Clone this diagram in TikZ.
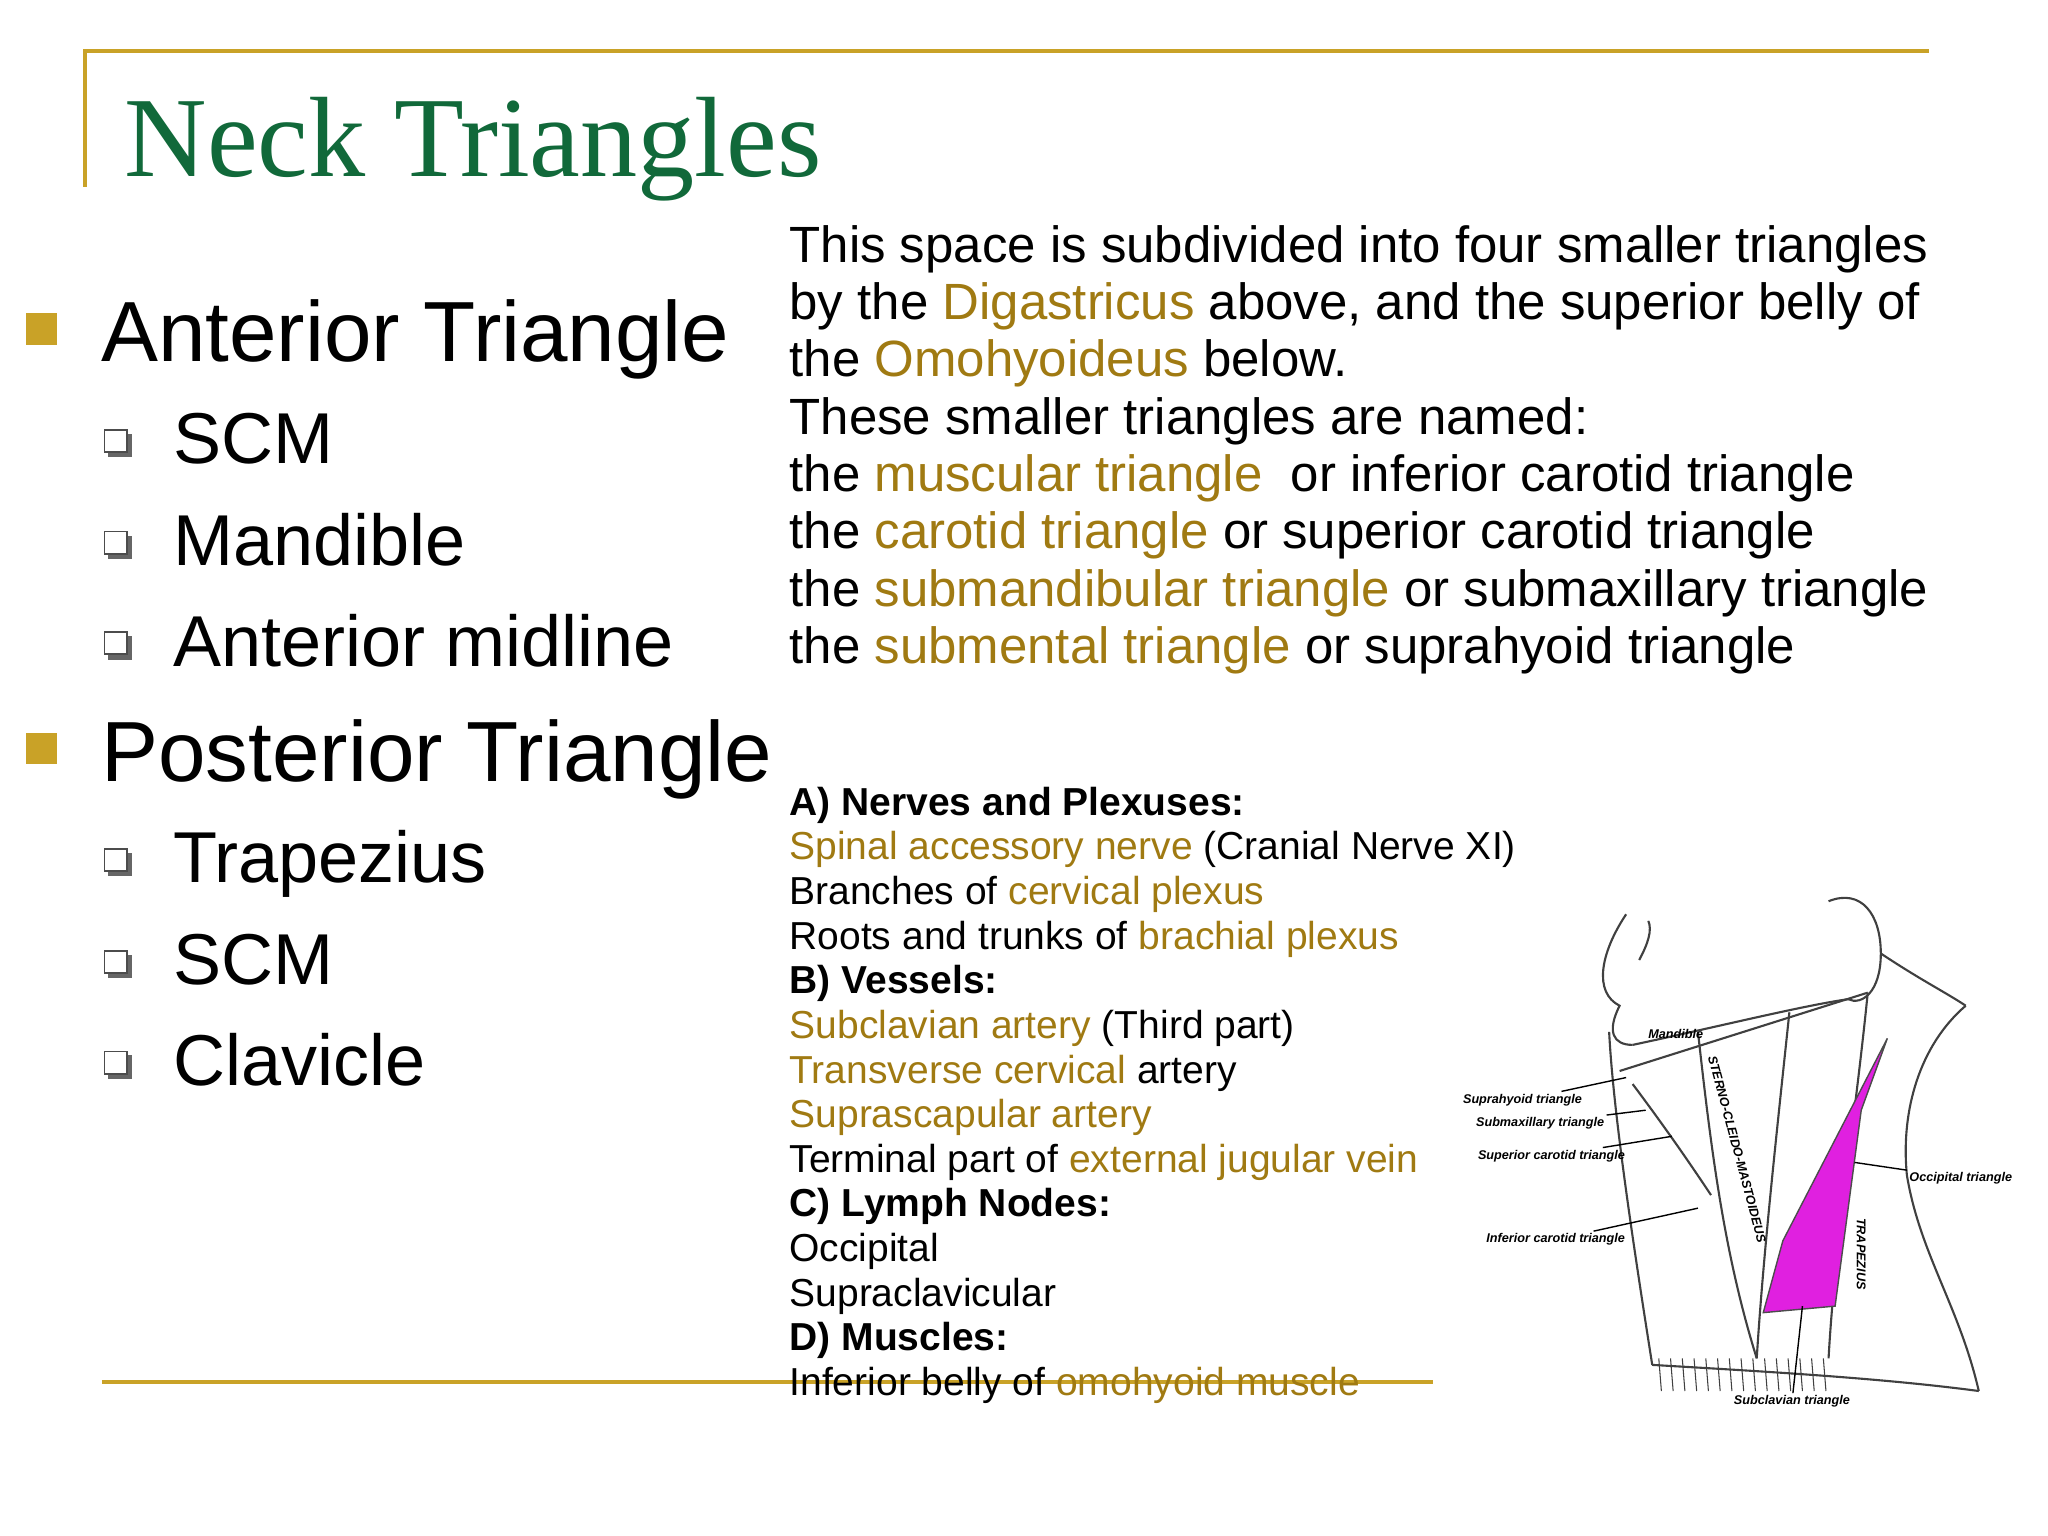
\documentclass[tikz,border=0pt]{standalone}
\usepackage{fontspec}
\setmainfont{Liberation Sans}
\newfontfamily\titlefont{Liberation Serif}
\definecolor{gline}{HTML}{C9A227}
\definecolor{gtext}{HTML}{A07A12}
\definecolor{tgreen}{HTML}{11693A}
\definecolor{mag}{HTML}{E020E0}
\begin{document}
\begin{tikzpicture}[x=0.01306cm,y=-0.01306cm,
  txt/.style={anchor=base west,inner sep=0},
  big/.style={txt,font=\fontsize{24.3}{28}\selectfont},
  sub/.style={txt,font=\fontsize{20.5}{24}\selectfont},
  para/.style={anchor=north west,inner sep=0,font=\fontsize{14.5}{16.3}\selectfont,align=left},
  lst/.style={anchor=north west,inner sep=0,font=\fontsize{11.1}{12.7}\selectfont,align=left},
  lab/.style={font=\fontsize{3.6}{4}\selectfont\itshape\bfseries,inner sep=0.5pt},
  hb/.style={draw=black!70,fill=white,line width=0.5pt}]
\useasboundingbox (0,0) rectangle (1568,1176);
\fill[white] (0,0) rectangle (1568,1176);
% frame lines
\draw[gline,line width=1.3pt] (65,143) -- (65,39) -- (1477,39);
\draw[gline,line width=1.3pt] (78,1058) -- (1097,1058);
\node[txt,text=tgreen,font=\fontsize{32.5}{36}\selectfont\titlefont] (title) at (95,135) {Neck Triangles};
% left bullets
\foreach \n/\y/\t in {a/277/Anterior Triangle,p/598/Posterior Triangle}{
  \fill[gline] (20,240-277+\y) rectangle (44,264-277+\y);
  \node[big] (\n) at (77,\y) {\t};}
\foreach \n/\y/\t in {s1/355/SCM,s2/433/Mandible,s3/510/Anterior midline,s4/676/Trapezius,s5/754/SCM,s6/831/Clavicle}{
  \fill[black!60] (83,\y-23) rectangle (101,\y-5);
  \draw[hb] (80,\y-26) rectangle (97,\y-9);
  \node[sub] (\n) at (132,\y) {\t};}
% paragraph
\node[para] (para) at (604,172) {This space is subdivided into four smaller triangles\\
by the \textcolor{gtext}{Digastricus} above, and the superior belly of\\
the \textcolor{gtext}{Omohyoideus} below.\\
These smaller triangles are named:\\
the \textcolor{gtext}{muscular triangle}\ \ or inferior carotid triangle\\
the \textcolor{gtext}{carotid triangle} or superior carotid triangle\\
the \textcolor{gtext}{submandibular triangle} or submaxillary triangle\\
the \textcolor{gtext}{submental triangle} or suprahyoid triangle};
\node[lst] (list) at (604,602) {\textbf{A) Nerves and Plexuses:}\\
\textcolor{gtext}{Spinal accessory nerve} (Cranial Nerve XI)\\
Branches of \textcolor{gtext}{cervical plexus}\\
Roots and trunks of \textcolor{gtext}{brachial plexus}\\
\textbf{B) Vessels:}\\
\textcolor{gtext}{Subclavian artery} (Third part)\\
\textcolor{gtext}{Transverse cervical} artery\\
\textcolor{gtext}{Suprascapular artery}\\
Terminal part of \textcolor{gtext}{external jugular vein}\\
\textbf{C) Lymph Nodes:}\\
Occipital\\
Supraclavicular\\
\textbf{D) Muscles:}\\
Inferior belly of \textcolor{gtext}{omohyoid muscle}};
% illustration
\begin{scope}[draw=black!75,line width=0.6pt]
\draw (1245,700) .. controls (1225,730) and (1220,760) .. (1240,770) .. controls (1230,790) and (1235,800) .. (1250,800);
\draw (1255,735) .. controls (1262,722) and (1265,712) .. (1262,705);
\draw (1400,690) .. controls (1425,680) and (1440,700) .. (1440,730) .. controls (1440,760) and (1425,770) .. (1415,765);
\draw (1250,800) .. controls (1320,785) and (1380,770) .. (1415,765);
\draw (1440,730) .. controls (1470,750) and (1490,760) .. (1505,770);
\draw (1505,770) .. controls (1470,800) and (1455,850) .. (1460,900) .. controls (1470,960) and (1500,1000) .. (1515,1065);
\draw (1232,790) .. controls (1235,850) and (1250,950) .. (1265,1045);
\draw (1265,1045) .. controls (1350,1050) and (1440,1055) .. (1515,1065);
\draw (1240,820) -- (1430,760);
\draw (1300,790) .. controls (1310,880) and (1320,960) .. (1345,1040);
\draw (1370,775) .. controls (1360,870) and (1350,960) .. (1345,1040);
\draw (1430,760) .. controls (1420,860) and (1405,950) .. (1400,1040);
\draw (1250,830) .. controls (1280,870) and (1300,900) .. (1310,915);
\foreach \i in {0,...,14}{\draw[line width=0.3pt] (1270+\i*9,1040) -- (1272+\i*9,1065);}
\end{scope}
\fill[mag] (1445,795) -- (1425,850) -- (1405,1000) -- (1350,1005) -- (1365,950) -- cycle;
\draw[black!70] (1445,795) -- (1425,850) -- (1405,1000) -- (1350,1005) -- (1365,950) -- cycle;
\node[lab,rotate=-75] (scm) at (1330,880) {STERNO-CLEIDO-MASTOIDEUS};
\node[lab,rotate=-90] (trap) at (1425,960) {TRAPEZIUS};
\node[lab] (mand) at (1283,792) {Mandible};
\node[lab,anchor=east] (l1) at (1213,842) {Suprahyoid triangle};
\node[lab,anchor=east] (l2) at (1230,860) {Submaxillary triangle};
\node[lab,anchor=east] (l3) at (1246,885) {Superior carotid triangle};
\node[lab,anchor=east] (l4) at (1246,949) {Inferior carotid triangle};
\node[lab,anchor=west] (l5) at (1460,902) {Occipital triangle};
\node[lab] (l6) at (1372,1073) {Subclavian triangle};
\coordinate (c1) at (1245,825); \coordinate (c2) at (1260,850);
\coordinate (c3) at (1280,870); \coordinate (c4) at (1300,925);
\coordinate (c5) at (1420,890); \coordinate (c6) at (1380,1000);
\foreach \a/\b in {l1/c1,l2/c2,l3/c3,l4/c4,l5/c5,l6/c6}{\draw[line width=0.4pt] (\a) -- (\b);}
\end{tikzpicture}
\end{document}
